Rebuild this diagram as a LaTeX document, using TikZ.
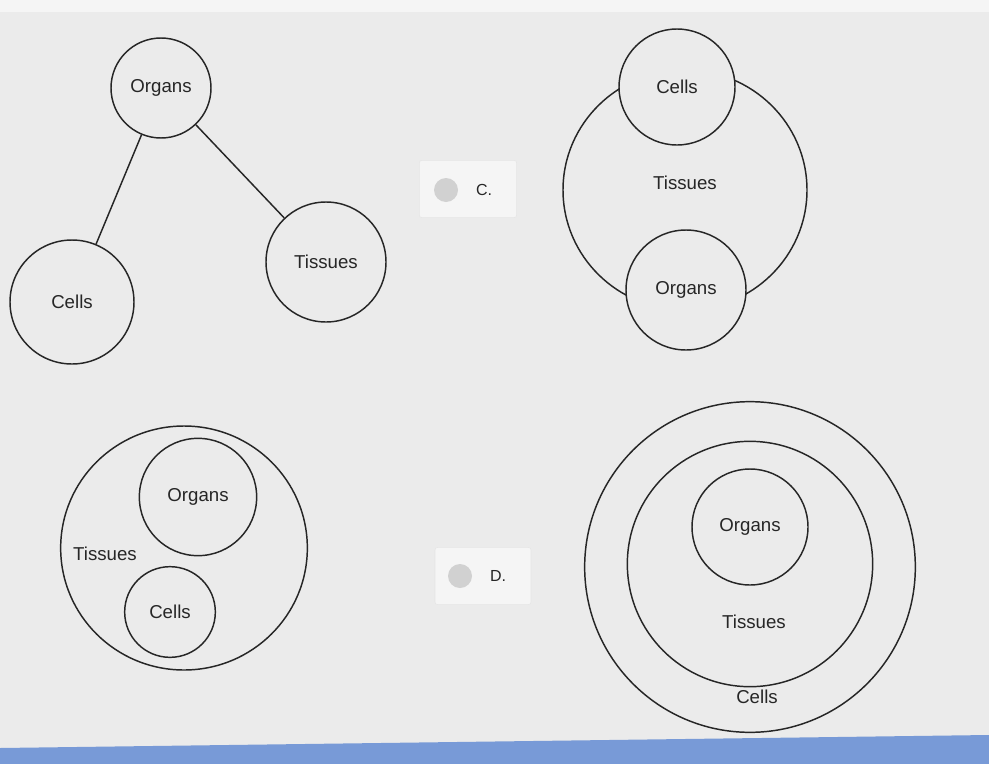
\documentclass[tikz,border=0pt]{standalone}
\usepackage{fontspec}
\usetikzlibrary{shapes.geometric}
\setmainfont{Liberation Sans}
\begin{document}
\begin{tikzpicture}[x=0.75pt,y=-0.75pt,
  circ/.style={draw=black!85,line width=1.1pt,circle,inner sep=0pt},
  lbl/.style={font=\fontsize{14}{16}\selectfont,text=black!85},
  btn/.style={draw=black!10,fill=black!4,rounded corners=2pt},
  edge/.style={draw=black!85,line width=1.1pt}]
\fill[black!8] (0,0) rectangle (989,764);
\fill[white!96!black] (0,0) rectangle (989,12);
\fill[cyan!45!blue!55] (0,748) -- (989,735) -- (989,764) -- (0,764) -- cycle;
\useasboundingbox (0,0) rectangle (989,764);
% top-left
\node[circ,minimum size=75pt,lbl] (o1) at (161,88) {Organs};
\node[circ,minimum size=93pt,lbl] (c1) at (72,302) {Cells};
\node[circ,minimum size=90pt,lbl] (t1) at (326,262) {Tissues};
\draw[edge] (o1) -- (c1);
\draw[edge] (o1) -- (t1);
% top-right
\node[draw=black!85,line width=1.1pt,ellipse,minimum width=183pt,minimum height=180pt,inner sep=0pt] (big2) at (685,190) {};
\node[circ,fill=black!8,minimum size=87pt,lbl] (c2) at (677,87) {Cells};
\node[lbl] (t2) at (685,183) {Tissues};
\node[circ,fill=black!8,minimum size=90pt,lbl] (o2) at (686,290) {Organs};
% C button
\node[btn,minimum width=73pt,minimum height=43pt] (bc) at (468,189) {};
\fill[black!18] (446,190) circle (9pt);
\node[lbl,font=\fontsize{12}{14}\selectfont] (lc) at (484,190) {C.};
% bottom-left
\node[draw=black!85,line width=1.1pt,ellipse,minimum width=185pt,minimum height=183pt,inner sep=0pt] (big3) at (184,548) {};
\node[circ,minimum size=88pt,lbl] (o3) at (198,497) {Organs};
\node[circ,minimum size=68pt,lbl] (c3) at (170,612) {Cells};
\node[lbl,fill=black!8,inner sep=1pt] (t3) at (105,554) {Tissues};
% D button
\node[btn,minimum width=72pt,minimum height=43pt] (bd) at (483,576) {};
\fill[black!18] (460,576) circle (9pt);
\node[lbl,font=\fontsize{12}{14}\selectfont] (ld) at (498,576) {D.};
% bottom-right
\node[circ,minimum size=248pt] (outer4) at (750,567) {};
\node[circ,minimum size=184pt] (mid4) at (750,564) {};
\node[circ,minimum size=87pt,lbl] (o4) at (750,527) {Organs};
\node[lbl] (t4) at (754,622) {Tissues};
\node[lbl] (c4) at (757,697) {Cells};
\end{tikzpicture}
\end{document}
